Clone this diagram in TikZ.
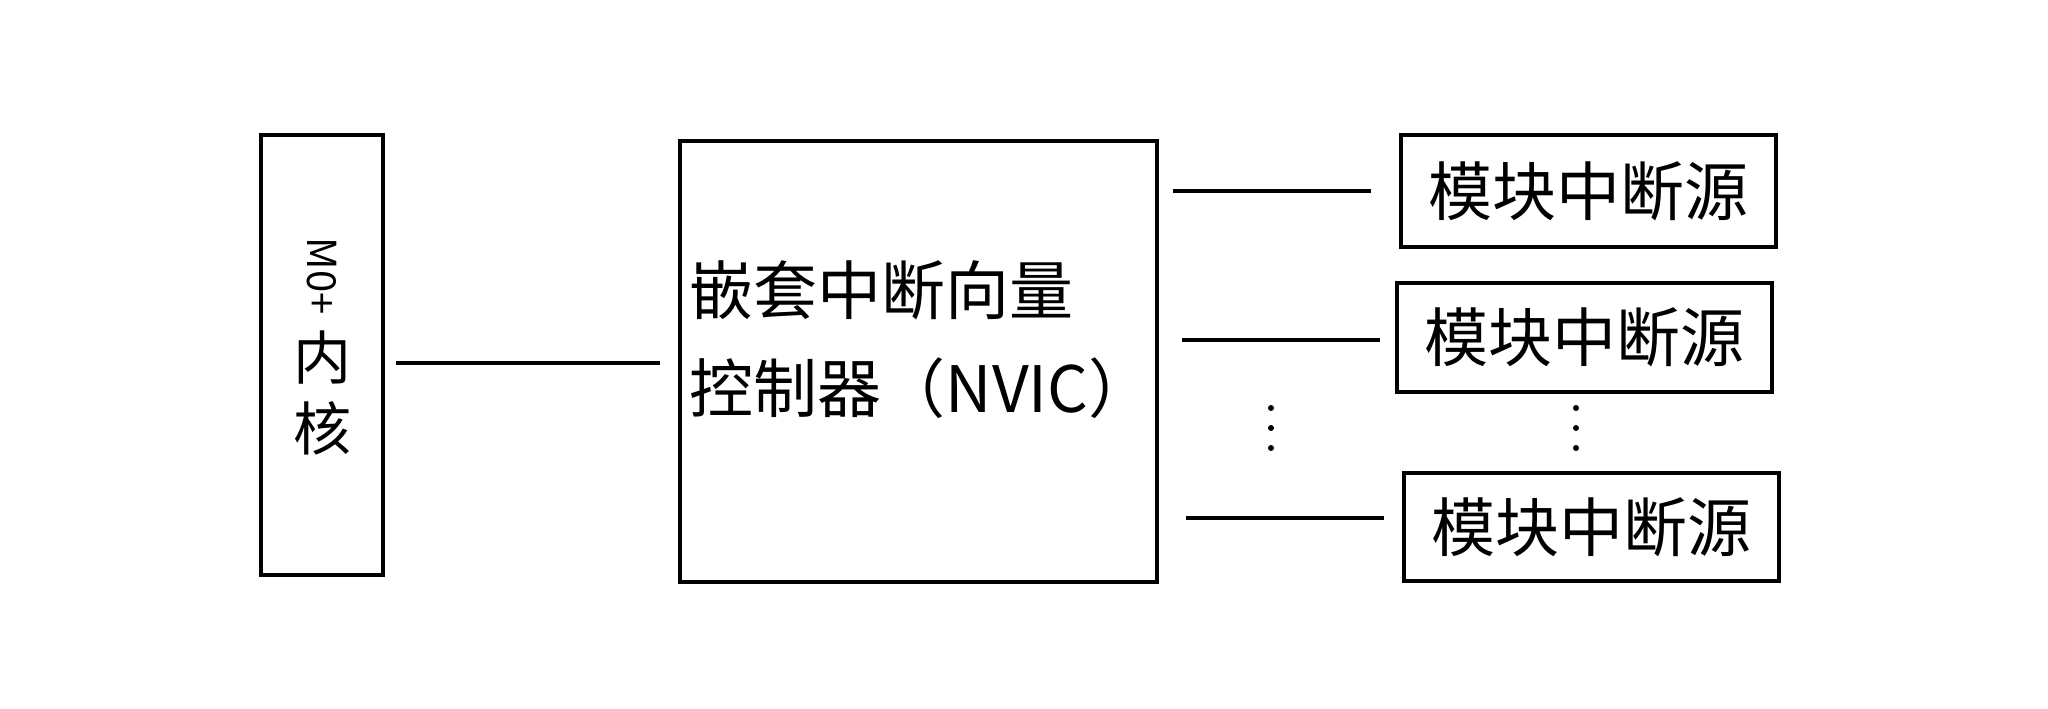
\documentclass[tikz,border=0pt]{standalone}
\usepackage{fontspec}
\setmainfont{Noto Sans CJK SC}
\begin{document}
\begin{tikzpicture}[x=1pt,y=-1pt,line width=3.5pt,
  box/.style={draw,rectangle,inner sep=0pt},
  txt/.style={font=\fontsize{58}{70}\selectfont,inner sep=0pt},
  big/.style={font=\fontsize{64}{76}\selectfont,inner sep=0pt}]
\useasboundingbox (0,0) rectangle (2048,709);
\node[box,minimum width=122,minimum height=440] (core) at (322,355) {};
\node[rotate=-90,inner sep=0pt,font=\fontsize{40}{48}\selectfont] (m0) at (322,276) {M0+};
\node[txt] (nei) at (322,358) {内};
\node[txt] (he) at (322,428) {核};
\node[box,minimum width=477,minimum height=441] (nvic) at (918.5,361.5) {};
\node[big,anchor=west] (t1) at (688,290) {嵌套中断向量};
\node[big,anchor=west] (t2) at (688,388) {控制器（NVIC）};
\node[box,minimum width=375,minimum height=112] (s1) at (1588.5,191) {};
\node[box,minimum width=375,minimum height=109] (s2) at (1584.5,337.5) {};
\node[box,minimum width=375,minimum height=108] (s3) at (1591.5,527) {};
\node[big] at (s1) {模块中断源};
\node[big] at (s2) {模块中断源};
\node[big] at (s3) {模块中断源};
\coordinate (a1) at (396,363); \coordinate (a2) at (660,363);
\draw (a1) -- (a2);
\coordinate (b1) at (1173,191); \coordinate (b2) at (1371,191);
\coordinate (c1) at (1182,340); \coordinate (c2) at (1380,340);
\coordinate (d1) at (1186,518); \coordinate (d2) at (1384,518);
\draw (b1) -- (b2); \draw (c1) -- (c2); \draw (d1) -- (d2);
\foreach \x in {1271,1576}
  \foreach \y in {408,428,448} \fill (\x,\y) circle (3);
\end{tikzpicture}
\end{document}
